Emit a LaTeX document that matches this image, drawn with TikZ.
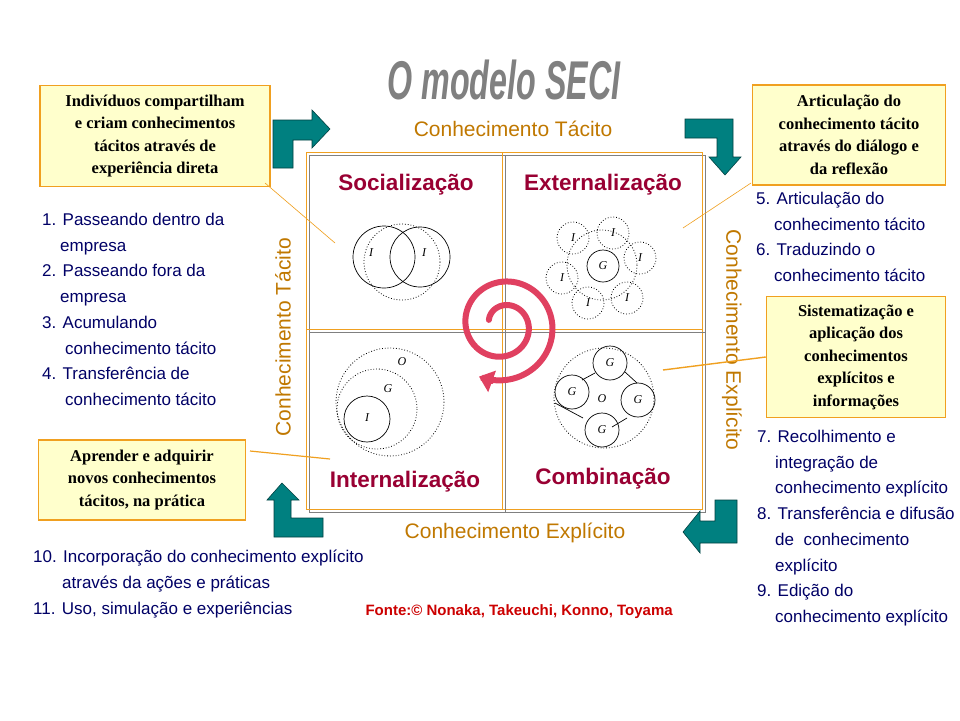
\documentclass[tikz,border=0pt]{standalone}
\usepackage{fontspec}
\setmainfont{Liberation Sans}
\newfontfamily\boxfont{Liberation Serif}
\usetikzlibrary{arrows.meta}
\definecolor{ora}{HTML}{F0A020}
\definecolor{brn}{HTML}{C07800}
\definecolor{dred}{HTML}{990033}
\definecolor{teal2}{HTML}{008080}
\definecolor{pink}{HTML}{E04060}
\definecolor{ylw}{HTML}{FFFFCC}
\definecolor{navy}{HTML}{000066}
\newcommand{\ind}[1]{\hspace*{#1pt}}
\tikzset{
 ybox/.style={draw=ora,line width=1.5pt,fill=ylw,align=center,font=\boxfont\bfseries\fontsize{16.5}{22.5}\selectfont},
 lst/.style={anchor=north west,align=left,text=navy,font=\fontsize{17}{25.7}\selectfont,inner sep=0},
 axis/.style={text=brn,font=\fontsize{21}{24}\selectfont},
 quad/.style={text=dred,font=\bfseries\fontsize{22.5}{24}\selectfont},
 bent/.style={fill=teal2,draw=teal2!50!black,line width=0.6pt},
 lead/.style={draw=ora,line width=0.6pt},
 sc/.style={draw,line width=0.7pt},
 dc/.style={draw,dotted,line width=0.8pt},
 lb/.style={font=\boxfont\itshape\fontsize{12}{12}\selectfont,inner sep=0}
}
\begin{document}
\begin{tikzpicture}[x=1pt,y=-1pt]
\useasboundingbox[fill=white] (0,0) rectangle (960,720);
% title
\node (title) at (504,80) {\scalebox{0.62}[1.05]{\color{gray}\bfseries\itshape\fontsize{52}{52}\selectfont O modelo SECI}};
% grid
\draw[gray,line width=0.8pt] (309,155) rectangle (705,512);
\draw[ora,line width=1pt] (306,152) rectangle (702,509);
\draw[ora,line width=1pt] (502,152) -- (502,509);
\draw[gray,line width=0.6pt] (505,155) -- (505,512);
\draw[ora,line width=1pt] (306,329) -- (702,329);
\draw[gray,line width=0.6pt] (309,332) -- (705,332);
% axes
\node[axis] (ct) at (513,129) {Conhecimento Tácito};
\node[axis] (ce) at (515,533) {Conhecimento Explícito};
\node[axis,rotate=90] (ctl) at (283,337) {Conhecimento Tácito};
\node[axis,rotate=-90] (cel) at (732,340) {Conhecimento Explícito};
% quadrant titles
\node[quad] (q1) at (406,185) {Socialização};
\node[quad] (q2) at (603,185) {Externalização};
\node[quad] (q3) at (405,482) {Internalização};
\node[quad] (q4) at (603,479) {Combinação};
% socialization
\draw[sc] (384,257) circle (31);
\draw[sc] (420,257) circle (30);
\draw[dc] (402,262) circle (38);
\node[lb] at (371,253) {I};
\node[lb] at (424,253) {I};
% externalization
\draw[dc] (602,265) circle (35);
\draw[sc] (603,266) circle (16);
\node[lb] at (603,266) {G};
\foreach \p in {(573,238),(613,233),(640,258),(562,278),(588,303),(627,298)}{
 \draw[dc] \p circle (16); \node[lb] at \p {I};}
% internalization
\draw[dc] (390,402) circle (54);
\draw[dc] (377,409) circle (40);
\draw[sc] (367,419) circle (23);
\node[lb] at (402,362) {O};
\node[lb] at (388,389) {G};
\node[lb] at (367,418) {I};
% combination
\draw[dc] (604,398) circle (50);
\foreach \p in {(610,363),(572,392),(638,400),(602,430)}{
 \draw[sc] \p circle (17); \node[lb] at \p {G};}
\node[lb] at (602,399) {O};
\draw[sc] (595,373) -- (582,380);
\draw[sc] (625,372) -- (637,383);
\draw[sc] (555,403) -- (583,418);
\draw[sc] (612,427) -- (627,418);
% spiral
\draw[pink,line width=6pt,line cap=round,-{Triangle[length=14pt,width=22pt]}]
 plot[domain=200:835,samples=160,smooth] ({503+(15+(\x-200)*0.066)*cos(\x)},{325+(15+(\x-200)*0.066)*sin(\x)});
% bent arrows
\draw[bent] (273,168) -- (273,120) -- (312,120) -- (312,110) -- (330,129) -- (312,148) -- (312,140) -- (293,140) -- (293,168) -- cycle;
\draw[bent] (685,119) -- (733,119) -- (733,157) -- (741,157) -- (725,175) -- (709,157) -- (717,157) -- (717,138) -- (685,138) -- cycle;
\draw[bent] (737,500) -- (737,543) -- (700,543) -- (700,553) -- (683,532) -- (700,511) -- (700,521) -- (715,521) -- (715,500) -- cycle;
\draw[bent] (323,518) -- (323,537) -- (274,537) -- (274,500) -- (267,500) -- (282,483) -- (299,500) -- (291,500) -- (291,518) -- cycle;
% boxes
\node[ybox,minimum width=230,minimum height=101] (b1) at (155,136) {Indivíduos compartilham\\e criam conhecimentos\\tácitos através de\\experiência direta};
\node[ybox,minimum width=193,minimum height=100] (b2) at (849,135) {Articulação do\\conhecimento tácito\\através do diálogo e\\da reflexão};
\node[ybox,minimum width=179,minimum height=121] (b3) at (856,357) {Sistematização e\\aplicação dos\\conhecimentos\\explícitos e\\informações};
\node[ybox,minimum width=207,minimum height=80] (b4) at (142,480) {Aprender e adquirir\\novos conhecimentos\\tácitos, na prática};
% leaders
\coordinate (l1) at (335,243); \coordinate (l2) at (683,228);
\coordinate (l3) at (663,370); \coordinate (l4) at (330,459);
\draw[lead] (265,183) -- (l1);
\draw[lead] (751,183) -- (l2);
\draw[lead,line width=1.4pt] (b3.west) -- (l3);
\draw[lead,line width=1.2pt] (250,451) -- (l4);
% lists
\node[lst] (L1) at (42,213) {1. Passeando dentro da\\\ind{18}empresa\\2. Passeando fora da\\\ind{18}empresa\\3. Acumulando\\\ind{23}conhecimento tácito\\4. Transferência de\\\ind{23}conhecimento tácito};
\node[lst] (L2) at (756,192) {5. Articulação do\\\ind{18}conhecimento tácito\\6. Traduzindo o\\\ind{18}conhecimento tácito};
\node[lst] (L3) at (757,430) {7. Recolhimento e\\\ind{18}integração de\\\ind{18}conhecimento explícito\\8. Transferência e difusão\\\ind{18}de\ \ conhecimento\\\ind{18}explícito\\9. Edição do\\\ind{18}conhecimento explícito};
\node[lst] (L4) at (33,550) {10. Incorporação do conhecimento explícito\\\ind{29}através da ações e práticas\\11. Uso, simulação e experiências};
\node[anchor=west,text=red!80!black,font=\bfseries\fontsize{15}{15}\selectfont] (src) at (362,612) {Fonte:© Nonaka, Takeuchi, Konno, Toyama};
\end{tikzpicture}
\end{document}
